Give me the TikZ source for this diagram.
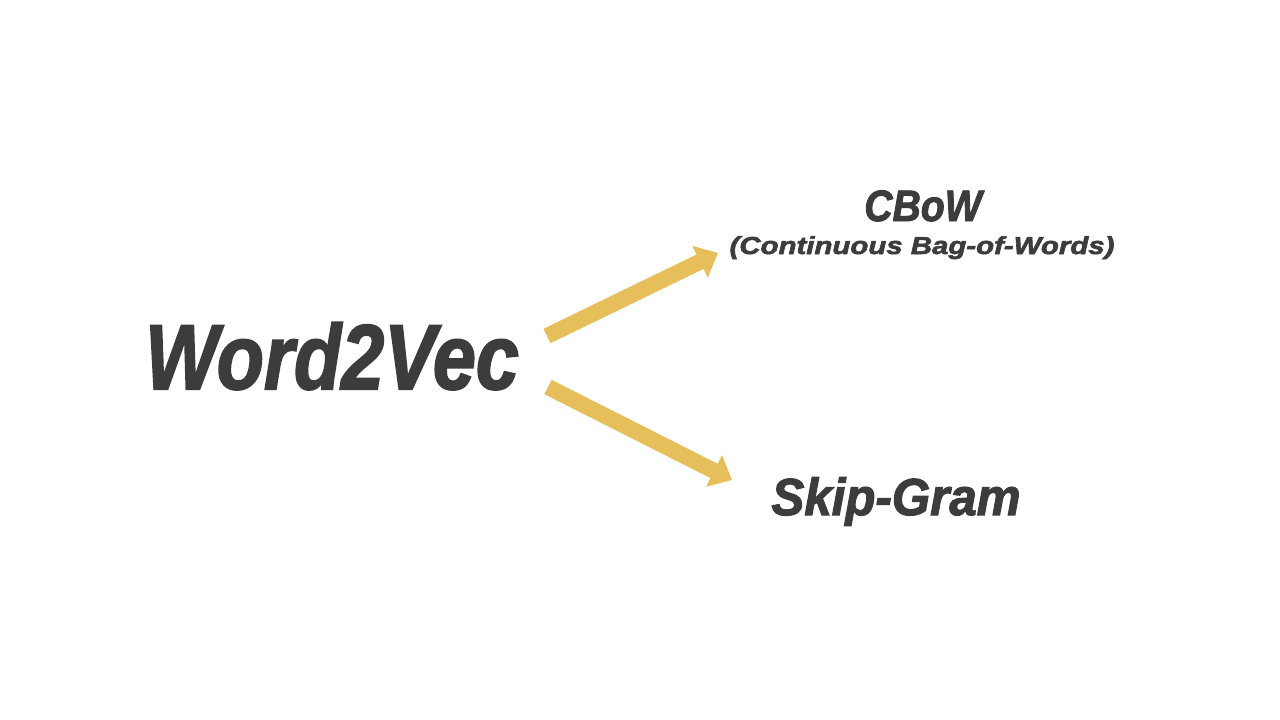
\documentclass[tikz,border=0pt]{standalone}
\usepackage{fontspec}
\setmainfont{Liberation Sans}
\newfontfamily\heavyfont{Liberation Sans}[BoldItalicFeatures={FakeBold=2.2}]
\usetikzlibrary{arrows.meta}
\definecolor{txtgray}{HTML}{3C3C3C}
\definecolor{arrowyellow}{HTML}{E6BE5A}
\tikzset{
  label text/.style={inner sep=0pt, anchor=base, text=txtgray, font=\heavyfont\bfseries\itshape},
  fat arrow/.style={draw=arrowyellow, line width=16pt,
    -{Triangle[width=34pt,length=20pt]}}
}
\begin{document}
\begin{tikzpicture}[x=1pt,y=-1pt]
  \useasboundingbox[fill=white] (0,0) rectangle (1280,720);
  \node[label text] (w2v) at (332,389)
    {\fontsize{92}{100}\selectfont\scalebox{0.84}[1]{Word2Vec}};
  \node[label text] (cbow) at (923,221)
    {\fontsize{44}{50}\selectfont\scalebox{0.89}[1]{CBoW}};
  \node[label text] (cbowfull) at (922,254)
    {\fontsize{24.5}{28}\selectfont\scalebox{1.2}[1]{(Continuous Bag-of-Words)}};
  \node[label text] (skip) at (896,515)
    {\fontsize{52}{58}\selectfont\scalebox{0.947}[1]{Skip-Gram}};
  \coordinate (upTail) at (547,336);
  \coordinate (upTip) at (718,253);
  \coordinate (dnTail) at (548,387);
  \coordinate (dnTip) at (732,480);
  \draw[fat arrow] (upTail) -- (upTip);
  \draw[fat arrow] (dnTail) -- (dnTip);
\end{tikzpicture}
\end{document}
